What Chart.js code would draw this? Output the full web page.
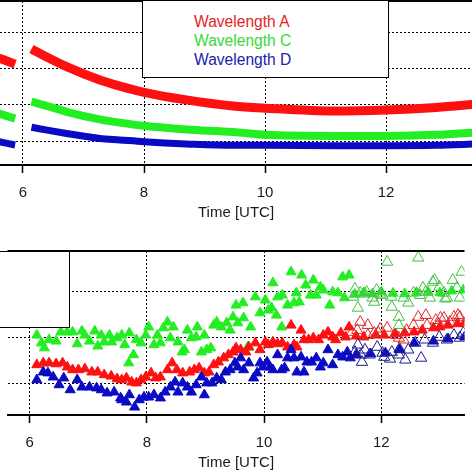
<!DOCTYPE html>
<html>
<head>
<meta charset="utf-8">
<script src="https://cdn.jsdelivr.net/npm/chart.js@4.4.1/dist/chart.umd.min.js"></script>
<style>
html,body{margin:0;padding:0;background:#fff;overflow:hidden}
#wrap{position:relative;width:472px;height:472px}
.pane{position:absolute;left:0;width:472px;height:236px}
.box{position:absolute;background:#fff;border:1.5px solid #000;box-sizing:border-box;font:15.6px "Liberation Sans",Arial,sans-serif}
#leg1{left:142px;top:0;width:247px;height:78px;padding:11px 0 0 51px;line-height:19px}
#leg2{left:-10px;top:251px;width:80px;height:77px}
</style>
</head>
<body>
<div id="wrap">
	<div class="pane" style="top:0"><canvas id="c1" width="472" height="236"></canvas></div>
	<div class="pane" style="top:236px"><canvas id="c2" width="472" height="236"></canvas></div>
	<div class="box" id="leg1"></div>
	<div class="box" id="leg2"></div>
</div>
<script>
"use strict"
// series names and colours
let names=['Wavelength A','Wavelength C','Wavelength D']
let textCol=['#e61e1e','#3ad83a','#2222a8']
let lineCol=['#ff1010','#22ee22','#0a0ac4']
let openCol=['#e02828','#44c044','#1c1c90']

// axes
let xTicks=[6,8,10,12]
let xMin=5.62, xMax=13.42
let topGrid=[1,2,3,4]
let topMin=0.335, topMax=4.88
let lowGrid=[1,2,3]
let lowMin=0.297, lowMax=3.9

// upper panel: smooth curves (null = data gap)
let topT=[5.55,5.87,6.0,6.14,6.4,6.72,7.27,7.6,8.0,8.7,9.47,10.0,11.17,12.0,12.83,13.5]
let topA=[3.33,3.13,null,3.55,3.32,3.06,2.69,2.52,2.35,2.14,1.97,1.91,1.83,1.86,1.93,2.02]
let topC=[1.79,1.62,null,2.09,1.97,1.81,1.60,1.51,1.42,1.32,1.25,1.17,1.14,1.14,1.17,1.24]
let topD=[1.00,0.89,null,1.38,1.30,1.21,1.07,1.03,0.98,0.92,0.88,0.88,0.87,0.87,0.88,0.92]

// lower panel: filled triangles
let fillTA=[6.12,6.23,6.33,6.45,6.56,6.64,6.73,6.83,6.94,7.06,7.16,7.27,7.39,7.49,7.57,7.65,7.74,7.82,7.90,7.98,8.07,8.15,8.23,8.35,8.43,8.51,8.61,8.73,8.81,8.89,8.98,9.06,9.14,9.22,9.31,9.39,9.47,9.52,9.60,9.69,9.74,9.85,9.93,10.02,10.07,10.15,10.23,10.31,10.40,10.46,10.51,10.56,10.63,10.68,10.76,10.84,10.93,11.01,11.09,11.17,11.22,11.31,11.39,11.45,11.57,11.70,11.90,12.05,12.23,12.40,12.56,12.70,12.89,13.00,13.14,13.30,13.42]
let fillA=[1.40,1.44,1.44,1.42,1.44,1.35,1.29,1.29,1.31,1.24,1.24,1.18,1.15,1.09,1.07,1.11,1.02,1.00,1.07,1.13,1.22,1.11,1.13,1.29,1.44,1.29,1.22,1.24,1.29,1.33,1.22,1.24,1.40,1.46,1.55,1.62,1.68,1.77,1.73,1.68,1.79,1.88,1.73,1.90,1.84,1.90,1.86,1.88,1.79,2.27,1.84,1.79,2.16,1.95,1.95,1.99,1.95,2.05,2.12,2.01,1.95,2.10,2.01,2.23,2.03,2.01,2.05,2.05,2.08,2.10,2.12,2.16,2.21,2.23,2.27,2.30,2.32]

let fillTC=[6.12,6.20,6.25,6.33,6.45,6.53,6.64,6.73,6.81,6.89,6.94,7.02,7.11,7.16,7.22,7.27,7.36,7.40,7.49,7.57,7.62,7.69,7.70,7.77,7.82,7.90,7.98,8.03,8.12,8.18,8.23,8.28,8.35,8.40,8.45,8.53,8.60,8.64,8.69,8.76,8.84,8.86,8.93,8.98,9.02,9.09,9.14,9.19,9.27,9.36,9.42,9.47,9.52,9.55,9.64,9.65,9.72,9.77,9.85,9.93,10.02,10.07,10.13,10.15,10.21,10.23,10.30,10.31,10.40,10.46,10.51,10.55,10.60,10.64,10.71,10.79,10.84,10.89,10.96,11.01,11.12,11.17,11.26,11.34,11.37,11.45,11.55,11.70,11.85,12.00,12.20,12.40,12.60,12.80,13.00,13.20,13.40]
let fillC=[2.05,1.88,1.77,1.95,1.92,2.12,2.12,2.12,1.86,2.14,2.05,1.92,2.14,1.81,2.05,1.90,2.05,1.90,1.99,2.05,1.84,1.44,2.10,1.62,1.95,1.88,2.05,2.23,1.84,2.05,1.88,2.21,2.34,1.99,2.23,1.90,1.68,1.73,2.16,1.99,2.01,2.23,1.68,2.05,1.73,1.77,2.27,2.34,2.23,2.32,2.16,2.45,2.71,2.32,2.76,2.43,1.79,2.23,2.89,2.54,2.82,2.60,2.65,3.20,2.49,2.89,2.23,2.93,2.71,3.44,2.76,2.98,2.78,3.37,3.15,2.93,3.26,2.93,3.11,3.04,2.71,3.00,2.98,3.33,2.87,3.37,2.95,2.98,2.96,3.00,2.97,2.96,2.99,3.00,2.98,3.02,3.04]

let fillTD=[6.12,6.23,6.31,6.40,6.50,6.58,6.69,6.81,6.89,7.02,7.14,7.22,7.32,7.44,7.55,7.57,7.65,7.70,7.79,7.87,7.95,8.03,8.12,8.23,8.31,8.40,8.48,8.53,8.61,8.69,8.76,8.84,8.93,8.98,9.02,9.11,9.19,9.27,9.34,9.42,9.50,9.55,9.60,9.65,9.74,9.82,9.88,9.93,9.98,10.05,10.10,10.15,10.23,10.30,10.35,10.40,10.46,10.51,10.56,10.63,10.68,10.73,10.81,10.89,10.96,11.01,11.09,11.17,11.26,11.34,11.42,11.47,11.57,11.82,12.07,12.31,12.56,12.89,13.14,13.42]
let fillD=[1.07,1.24,1.22,1.13,0.96,1.11,0.85,1.07,0.91,0.91,0.89,0.85,0.78,0.80,0.67,0.63,0.58,0.74,0.47,0.63,0.69,0.69,0.74,0.67,0.80,0.91,1.02,0.80,1.00,0.91,0.80,0.96,1.13,0.74,1.00,1.00,1.11,1.07,1.24,1.29,1.44,1.35,1.55,1.29,1.44,1.11,1.22,1.44,1.35,1.46,1.35,1.29,1.62,1.29,1.33,1.55,1.73,1.55,1.24,1.57,1.24,1.46,1.46,1.55,1.35,1.44,1.73,1.40,1.62,1.57,1.68,1.55,1.62,1.64,1.66,1.73,1.88,1.92,1.97,2.01]

// lower panel: open triangles (later period)
let openTA=[11.50,11.59,11.64,11.77,11.77,11.88,11.95,11.98,12.10,12.25,12.30,12.38,12.43,12.55,12.63,12.76,12.78,12.93,12.98,13.01,13.07,13.17,13.24,13.31,13.34]
let openA=[2.12,2.16,2.34,2.27,2.05,2.10,2.10,2.19,2.21,2.05,1.99,1.95,2.16,2.27,2.45,2.49,2.27,2.38,2.30,2.43,2.43,2.34,2.45,2.49,2.45]
let openTC=[11.52,11.55,11.60,11.64,11.72,11.75,11.85,11.88,11.92,11.98,12.02,12.10,12.17,12.18,12.30,12.30,12.38,12.46,12.55,12.63,12.66,12.71,12.76,12.83,12.88,12.91,12.99,13.07,13.09,13.12,13.22,13.29,13.34,13.37]
let openC=[2.89,3.07,2.65,2.98,2.96,3.00,2.87,2.78,3.04,2.96,2.93,3.66,2.89,2.67,2.45,2.27,2.87,2.76,2.98,3.75,2.93,3.09,3.00,2.87,3.22,3.26,3.11,2.98,2.85,2.87,3.26,3.09,2.87,3.44]
let openTD=[11.55,11.60,11.65,11.67,11.72,11.80,11.93,12.02,12.05,12.15,12.18,12.30,12.31,12.41,12.46,12.58,12.68,12.74,12.88,12.99,13.12,13.24,13.34,13.40]
let openD=[1.68,1.84,1.62,1.46,1.73,1.62,1.79,1.66,1.57,1.53,1.68,1.62,1.75,1.51,1.73,1.88,1.55,1.95,1.88,2.01,1.95,2.05,1.99,2.10]

let font={family:'"Liberation Sans", Arial, sans-serif',size:15}
let pts=(t,v)=>t.map((x,i)=>({x:x,y:v[i]}))

let frameTop={id:'frameTop',afterDraw:c=>{
	let a=c.chartArea, g=c.ctx
	g.save()
	g.strokeStyle='#000'
	g.lineWidth=2
	g.beginPath()
	g.moveTo(a.left,a.top)
	g.lineTo(a.right,a.top)
	g.stroke()
	g.restore()
}}

let scales=(yMin,yMax,yGrid)=>({
	x:{type:'linear',min:xMin,max:xMax,
		afterBuildTicks:s=>{s.ticks=xTicks.map(v=>({value:v}))},
		ticks:{font:font,color:'#1a1a1a',padding:11,maxRotation:0},
		grid:{color:'#000',lineWidth:1,tickLength:8,tickColor:'#000',tickWidth:1.5},
		border:{display:true,color:'#000',width:2,dash:[2,2]},
		title:{display:true,text:'Time [UTC]',font:font,color:'#1a1a1a',padding:{top:-9,bottom:0}}
	},
	y:{type:'linear',min:yMin,max:yMax,
		afterBuildTicks:s=>{s.ticks=yGrid.map(v=>({value:v}))},
		ticks:{display:false},
		grid:{color:'#000',lineWidth:1,drawTicks:false},
		border:{display:false,dash:[2,2]}
	}
})

let base={responsive:false,devicePixelRatio:1,animation:false,
	plugins:{legend:{display:false},tooltip:{enabled:false}}}

let band=(i,v,w)=>({label:names[i],data:pts(topT,v),showLine:true,borderColor:lineCol[i],
	borderWidth:w,pointRadius:0,cubicInterpolationMode:'monotone',spanGaps:false})

new Chart(document.getElementById('c1'),{
	type:'scatter',
	data:{datasets:[band(0,topA,9),band(1,topC,8),band(2,topD,7)]},
	options:Object.assign({},base,{layout:{padding:{top:1,bottom:14,left:0,right:0}},scales:scales(topMin,topMax,topGrid)}),
	plugins:[frameTop]
})

let filled=(i,t,v)=>({label:names[i],data:pts(t,v),pointStyle:'triangle',pointRadius:5.8,
	backgroundColor:lineCol[i],borderColor:lineCol[i],borderWidth:1})
let hollow=(i,t,v)=>({label:names[i],data:pts(t,v),pointStyle:'triangle',pointRadius:6.5,
	backgroundColor:'rgba(0,0,0,0)',borderColor:openCol[i],borderWidth:1})

new Chart(document.getElementById('c2'),{
	type:'scatter',
	data:{datasets:[
		hollow(0,openTA,openA),hollow(2,openTD,openD),hollow(1,openTC,openC),
		filled(2,fillTD,fillD),filled(0,fillTA,fillA),filled(1,fillTC,fillC)
	]},
	options:Object.assign({},base,{layout:{padding:{top:15,bottom:0,left:0,right:0}},scales:scales(lowMin,lowMax,lowGrid)}),
	plugins:[frameTop]
})

document.getElementById('leg1').innerHTML=names.map((n,i)=>'<div style="color:'+textCol[i]+'">'+n+'</div>').join('')
</script>
</body>
</html>
